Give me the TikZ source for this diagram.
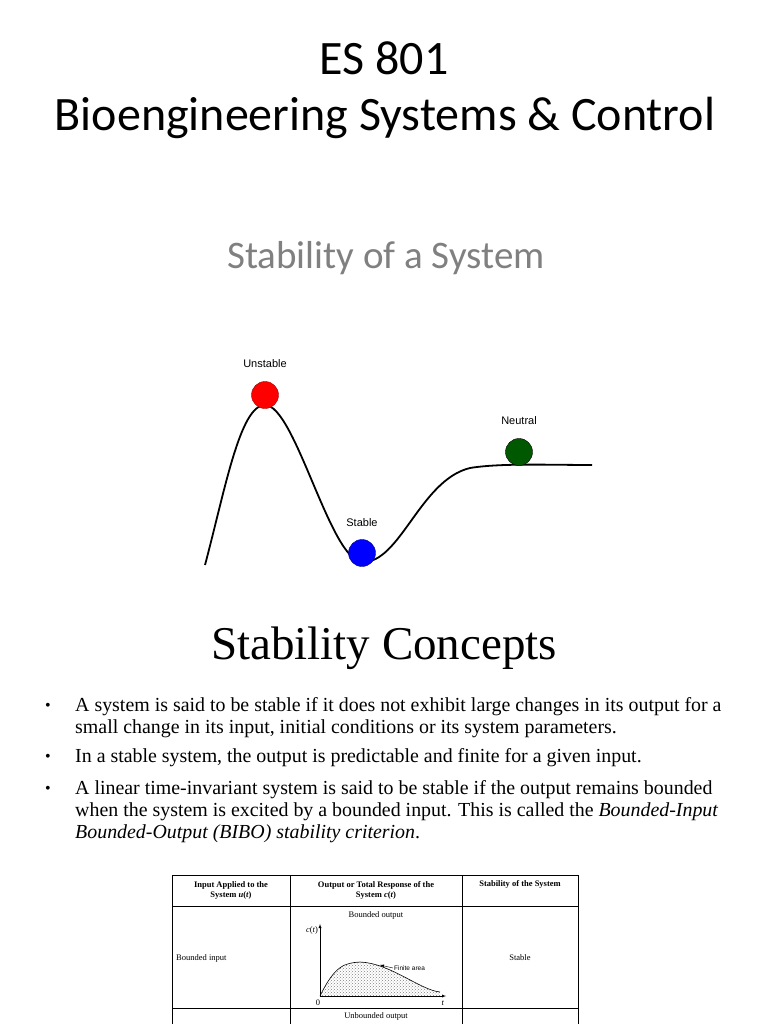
\documentclass[tikz,border=0pt]{standalone}
\usepackage{fontspec}
\usetikzlibrary{patterns}
\setmainfont{Liberation Serif}
\newfontfamily\calfont{Carlito}
\newfontfamily\ars{Liberation Sans}
\begin{document}
\begin{tikzpicture}[x=1pt,y=-1pt,
  lbl/.style={font=\ars\fontsize{11}{12}\selectfont},
  bul/.style={anchor=west,font=\fontsize{19.9}{22}\selectfont,inner sep=0},
  tb/.style={font=\fontsize{8.5}{10}\selectfont,align=center,inner sep=0}]
\useasboundingbox (0,0) rectangle (768,1024);
\node (t1) at (384,58) {\calfont\fontsize{48}{56}\selectfont ES 801};
\node (t2) at (385,118) {\calfont\fontsize{48}{56}\selectfont Bioengineering Systems \& Control};
\node[text=gray] (st) at (386,258) {\calfont\fontsize{39}{44}\selectfont Stability of a System};
% curve
\draw[line width=1.8pt] (205,565) .. controls (225,490) and (240,405) .. (265,405)
  .. controls (295,405) and (330,560) .. (362,562)
  .. controls (400,564) and (420,480) .. (470,468)
  .. controls (500,463) and (550,465) .. (592,465);
\node[circle,fill=red,draw=red!60!black,minimum size=27pt,inner sep=0] (u) at (265,395) {};
\node[circle,fill=blue,draw=blue!50!black,minimum size=27pt,inner sep=0] (s) at (362,553) {};
\node[circle,fill=green!35!black,draw=black,minimum size=27pt,inner sep=0] (n) at (519,452) {};
\node[lbl] (lu) at (265,364) {Unstable};
\node[lbl] (ls) at (362,523) {Stable};
\node[lbl] (ln) at (519,421) {Neutral};
\node (sc) at (384,648) {\fontsize{47}{54}\selectfont Stability Concepts};
\foreach \y in {707,758,790} \node at (48,\y) {\fontsize{16}{18}\selectfont •};
\node[bul] at (75,707) {A system is said to be stable if it does not exhibit large changes in its output for a};
\node[bul] at (75,729) {small change in its input, initial conditions or its system parameters.};
\node[bul] at (75,758) {In a stable system, the output is predictable and finite for a given input.};
\node[bul] at (75,790) {A linear time-invariant system is said to be stable if the output remains bounded};
\node[bul] at (75,812) {when the system is excited by a bounded input. This is called the \textit{Bounded-Input}};
\node[bul] at (75,834) {\textit{Bounded-Output (BIBO) stability criterion}.};
% table
\draw[line width=0.6pt] (172,1024) -- (172,875) -- (578,875) -- (578,1024);
\draw (172,906) -- (578,906) (172,1008) -- (578,1008) (290,875) -- (290,1024) (462,875) -- (462,1024);
\node[tb] at (231,890) {\textbf{Input Applied to the}\\\textbf{System \textit{u}(\textit{t})}};
\node[tb] at (376,890) {\textbf{Output or Total Response of the}\\\textbf{System \textit{c}(\textit{t})}};
\node[tb] at (520,884) {\textbf{Stability of the System}};
\node[tb,anchor=west] at (176,958) {Bounded input};
\node[tb] at (520,958) {Stable};
\node[tb] at (376,915) {Bounded output};
\node[tb] at (376,1016) {Unbounded output};
% small plot
\draw[-latex,line width=0.4pt] (320,996) -- (320,924);
\draw[-latex,line width=0.4pt] (320,996) -- (446,996);
\node[tb] at (312,930) {\textit{c}(\textit{t})};
\node[tb] at (318,1003) {0};
\node[tb] at (443,1003) {\textit{t}};
\fill[pattern=crosshatch dots,pattern color=gray] (320,996) .. controls (335,965) and (345,963) .. (360,962) .. controls (390,963) and (420,990) .. (440,992) -- (440,996) -- cycle;
\draw[line width=0.6pt] (320,996) .. controls (335,965) and (345,963) .. (360,962) .. controls (390,963) and (420,990) .. (440,992);
\draw[-latex,line width=0.4pt] (393,968) -- (380,965);
\node[font=\ars\fontsize{6.5}{7}\selectfont,anchor=west,inner sep=0] at (394,968) {Finite area};
\end{tikzpicture}
\end{document}
